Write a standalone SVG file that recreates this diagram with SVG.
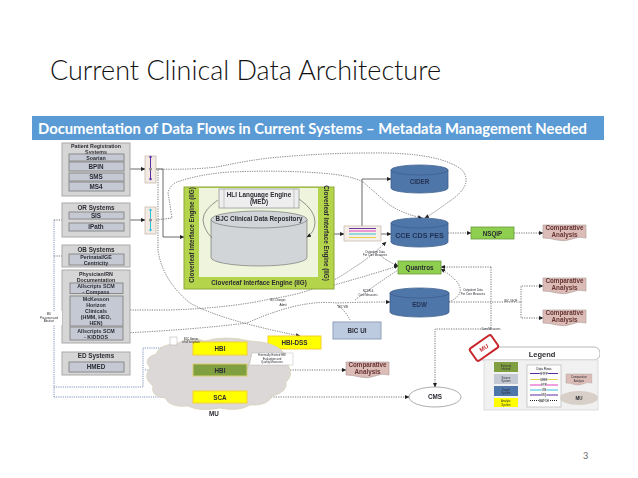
<svg xmlns="http://www.w3.org/2000/svg" width="638" height="478" viewBox="0 0 638 478">
<style>
text{font-family:"Liberation Sans",Arial,sans-serif;text-anchor:middle;font-weight:bold;fill:#2b2b33}
.t{font-family:Lato,"Liberation Sans",sans-serif;text-anchor:start}
.g{fill:#d6d6d6;stroke:#aaa;stroke-width:1}
.i{fill:#c5c9d3;stroke:#8a8a8a;stroke-width:1}
.s{font-size:6.300px}
.n{font-size:5.300px}
.xs{font-size:2.800px;font-weight:normal}
.cyl{fill:#4f76a8;stroke:#3d5f8e;stroke-width:.8}
.y{fill:#ffff00;stroke:#f2cf30;stroke-width:1}
.gr{fill:#8fcf4f;stroke:#6a9a3a;stroke-width:.8}
.d{fill:#dcbcb6;stroke:#a99;stroke-width:.6}
.c{fill:none;stroke:#666;stroke-width:.9;stroke-dasharray:1.200 1.200}
.l{fill:none;stroke:#444;stroke-width:.8}
.a{fill:none;stroke:#777;stroke-width:.8}
.b{fill:none;stroke:#6f86b5;stroke-width:.9;stroke-dasharray:1.200 1}
.r{font-size:3px;paint-order:stroke;stroke:#f1f1f1;stroke-width:1px;font-weight:normal}
.an{fill:#633}
</style>
<defs>
<marker id="a" markerWidth="5" markerHeight="5" refX="4" refY="2.500" orient="auto" markerUnits="userSpaceOnUse"><path d="M0 .5L4.500 2.500L0 4.500z" fill="#222"/></marker>
<path id="doc" d="M0 0H43V13Q36 11 29 14T14 15T0 13z"/>
<filter id="soft" x="0" y="0" width="1" height="1" filterUnits="objectBoundingBox"><feGaussianBlur stdDeviation=".35"/></filter>
</defs>
<rect width="638" height="478" fill="#fff"/>
<text class="t" x="50" y="80" font-size="26.500" textLength="391" lengthAdjust="spacingAndGlyphs" style="font-weight:300;fill:#111">Current Clinical Data Architecture</text>
<rect x="32" y="116" width="572" height="24" fill="#5b9bd5"/>
<text class="t" x="38" y="133.500" font-size="14.700" textLength="549" lengthAdjust="spacingAndGlyphs" style="fill:#fff;font-weight:bold">Documentation of Data Flows in Current Systems – Metadata Management Needed</text>
<text class="t" x="583" y="459" font-size="9" style="font-weight:normal;fill:#666">3</text>

<g filter="url(#soft)">
<g id="connectors">
<path class="l" d="M130 169H145" marker-end="url(#a)"/><path class="l" d="M130 220H145" marker-end="url(#a)"/>
<path class="l" d="M156 169H163V237H184" marker-end="url(#a)"/>
<path class="l" d="M334 234H344" marker-end="url(#a)"/><path class="l" d="M381 234H391" marker-end="url(#a)"/>
<path class="l" d="M362 226V179H391" marker-end="url(#a)"/>
<path class="c" d="M156 169Q190 170 217 167Q250 160 270 158Q320 153 370 153Q440 152 462 170Q475 185 447 203Q435 212 425 218" marker-end="url(#a)"/>
<path class="c" d="M156 220L172 218Q170 205 168 193Q170 185 177 182Q200 174 230 172Q280 170 320 173Q350 175 363 182Q378 195 387 203Q400 213 422 218" marker-end="url(#a)"/>
<path class="c" d="M158 170V250Q162 280 190 303Q220 320 300 336" marker-end="url(#a)"/>
<path class="c" d="M123 310H170Q230 308 270 299Q320 292 350 270Q370 258 386 242" marker-end="url(#a)"/>
<path class="c" d="M334 285Q370 275 398 266" marker-end="url(#a)"/>
<path class="c" d="M380 255Q385 260 398 266" marker-end="url(#a)"/>
<path class="c" d="M123 333Q190 330 247 323Q265 315 275 312Q310 300 337 303Q365 302 390 302" marker-end="url(#a)"/>
<path class="c" d="M337 305Q345 310 350 320"/>
<path class="c" d="M355 300Q375 285 398 270"/>
<path class="c" d="M449 302H521"/>
<path class="c" d="M449 302Q475 290 441 269" marker-end="url(#a)"/>
<path class="c" d="M491 267H441" marker-end="url(#a)"/>
<path class="c" d="M521 302V286H543" marker-end="url(#a)"/>
<path class="c" d="M521 302V318H543" marker-end="url(#a)"/>
<path class="c" d="M448 233H471" marker-end="url(#a)"/><path class="c" d="M514 233H543" marker-end="url(#a)"/>
<path class="c" d="M491 267V329H435V387" marker-end="url(#a)"/>
<path class="c" d="M247 370H346" marker-end="url(#a)"/>
<path class="c" d="M247 397H409" marker-end="url(#a)"/>
<path class="c" d="M220 376V391"/>
<path class="b" d="M54 220V397"/>
<path class="c" d="M54 220H62M54 256H62"/>
<path class="b" d="M54 387H143V348H193" marker-end="url(#a)"/>
<path class="b" d="M54 397H193" marker-end="url(#a)"/>
<path class="b" d="M145 370H193" marker-end="url(#a)"/>
</g>

<g id="patient-registration"><rect class="g" x="62" y="143" width="68" height="53"/><text class="n" x="96" y="147.500">Patient Registration</text><text class="n" x="96" y="153.500">Systems</text>
<rect class="i" x="69" y="154" width="55" height="7"/><text class="n" x="96" y="160">Soarian</text>
<rect class="i" x="69" y="162" width="55" height="9"/><text class="s" x="96" y="168.500">BPIN</text>
<rect class="i" x="69" y="173" width="55" height="8"/><text class="s" x="96" y="179">SMS</text>
<rect class="i" x="69" y="182" width="55" height="9"/><text class="s" x="96" y="188.500">MS4</text></g>
<g id="or-systems"><rect class="g" x="62" y="203" width="68" height="34"/><text class="s" x="96" y="210">OR Systems</text>
<rect class="i" x="69" y="212" width="55" height="7"/><text class="s" x="96" y="217.500">SIS</text>
<rect class="i" x="69" y="223" width="55" height="8"/><text class="s" x="96" y="229">iPath</text></g>
<g id="ob-systems"><rect class="g" x="62" y="245" width="68" height="22"/><text class="s" x="96" y="252">OB Systems</text>
<rect class="i" x="69" y="254" width="55" height="11"/><text class="n" x="96" y="258.800">Perinatal/GE</text><text class="n" x="96" y="264.800">Centricity</text></g>
<g id="physician"><rect class="g" x="62" y="270" width="68" height="73"/><text class="n" x="96" y="275.500">Physician/RN</text><text class="n" x="96" y="281.500">Documentation</text>
<rect class="i" x="70" y="283" width="53" height="10.500"/><text class="n" x="96" y="287.500">Allscripts SCM</text><text class="n" x="96" y="293.500">- Compass</text>
<rect class="i" x="70" y="296" width="53" height="30"/><text class="n" x="96" y="301">McKesson</text><text class="n" x="96" y="307">Horizon</text><text class="n" x="96" y="313">Clinicals</text><text class="n" x="96" y="319">(HMM, HEO,</text><text class="n" x="96" y="325">HEN)</text>
<rect class="i" x="70" y="327" width="53" height="13"/><text class="n" x="96" y="332.500">Allscripts SCM</text><text class="n" x="96" y="338.500">- KIDDOS</text></g>
<g id="ed-systems"><rect class="g" x="62" y="352" width="68" height="23"/><text class="s" x="96" y="357.500">ED Systems</text>
<rect class="i" x="69" y="362" width="55" height="10"/><text class="s" x="96" y="369">HMED</text></g>
<g id="mu-label"><rect x="40" y="311" width="22" height="14" fill="#fff"/><text class="xs" x="49" y="315">MU</text><text class="xs" x="49" y="318.500">Pre-processed</text><text class="xs" x="49" y="322">Abstract</text></g>

<g id="switch-1"><rect x="145" y="156" width="11" height="27" fill="#f3ebe3" stroke="#b9a99a" stroke-width=".6"/><path d="M150.500 157V180" stroke="#5a2aa0" stroke-width="1"/><circle cx="150.500" cy="157" r="1.200" fill="#5a2aa0"/><circle cx="150.500" cy="169" r="1.500" fill="#888"/><circle cx="150.500" cy="179" r="1.200" fill="#5a2aa0"/></g>
<g id="switch-2"><rect x="145" y="207" width="11" height="27" fill="#f3ebe3" stroke="#b9a99a" stroke-width=".6"/><path d="M150.500 209V231" stroke="#30c0d8" stroke-width="1"/><circle cx="150.500" cy="210" r="1.200" fill="#30c0d8"/><circle cx="150.500" cy="220" r="1.500" fill="#888"/><circle cx="150.500" cy="230" r="1.200" fill="#30c0d8"/></g>

<g id="cloverleaf"><rect x="184" y="187" width="150" height="102" fill="#b4d44c" stroke="#8ea838"/><rect x="199" y="188" width="119" height="89" fill="#eff5dc"/>
<text class="s" transform="translate(193.500,235) rotate(-90)">Cloverleaf Interface Engine (IIG)</text>
<text class="s" transform="translate(323.500,233) rotate(90)">Cloverleaf Interface Engine (IIG)</text>
<text class="s" x="259" y="285">Cloverleaf Interface Engine (IIG)</text></g>
<g id="hli"><rect x="219" y="189" width="80" height="19" fill="#eee" stroke="#aaa"/><path d="M224 189V208M294 189V208" stroke="#aaa" stroke-width=".6"/><text class="s" x="259" y="197">HLI Language Engine</text><text class="s" x="259" y="204">(MED)</text></g>
<g id="repository"><path d="M211 219.500V257.500A48 8.500 0 0 0 307 257.500V219.500z" fill="#d2d5d8" stroke="#666" stroke-width=".6"/><ellipse cx="259" cy="219.500" rx="48" ry="8.500" fill="#d2d5d8" stroke="#666" stroke-width=".6"/><text class="s" x="259" y="220.500">BJC Clinical Data Repository</text></g>
<g id="hli-links"><path class="a" d="M218 200Q203 210 203 220Q204 230 212 238"/><path class="a" d="M299 199Q315 210 315 222Q315 232 307 237" marker-end="url(#a)"/></g>

<g id="switch-3"><rect x="344" y="226" width="37" height="15" fill="#f5efe8" stroke="#b9a99a" stroke-width=".6"/><path d="M349 228.500H376" stroke="#7030a0"/><path d="M349 231H376" stroke="#e040c0"/><path d="M349 234H376" stroke="#30c0d8"/><path d="M349 237.500H376" stroke="#e8d050"/></g>
<g id="cider"><path class="cyl" d="M391 170V188A28.500 5 0 0 0 448 188V170z"/><ellipse class="cyl" cx="419.500" cy="170" rx="28.500" ry="5"/><text class="s" x="419.500" y="183.500" style="fill:#223355">CIDER</text></g>
<g id="cce"><path class="cyl" d="M391 223V242A28.500 5 0 0 0 448 242V223z"/><ellipse class="cyl" cx="419.500" cy="223" rx="28.500" ry="5"/><text x="419.500" y="237.500" font-size="7.200" style="fill:#223355">CCE CDS PES</text></g>
<g id="edw"><path class="cyl" d="M390 293V312A29.500 5 0 0 0 449 312V293z"/><ellipse class="cyl" cx="419.500" cy="293" rx="29.500" ry="5"/><text class="s" x="419.500" y="307" style="fill:#223355">EDW</text></g>
<g id="nsqip"><rect class="gr" x="471" y="227" width="43" height="12"/><text class="s" x="492.500" y="235.500">NSQIP</text></g>
<g id="quantros"><rect class="gr" x="398" y="261" width="43" height="13"/><text class="s" x="419.500" y="269.500">Quantros</text></g>
<g id="comparative-1"><use href="#doc" class="d" x="543" y="225"/><text class="s an" x="564.500" y="230">Comparative</text><text class="s an" x="564.500" y="237">Analysis</text></g>
<g id="comparative-2"><use href="#doc" class="d" x="543" y="278"/><text class="s an" x="564.500" y="283">Comparative</text><text class="s an" x="564.500" y="290">Analysis</text></g>
<g id="comparative-3"><use href="#doc" class="d" x="543" y="310"/><text class="s an" x="564.500" y="315">Comparative</text><text class="s an" x="564.500" y="322">Analysis</text></g>
<g id="comparative-4"><use href="#doc" class="d" x="346" y="362"/><text class="s an" x="367.500" y="367">Comparative</text><text class="s an" x="367.500" y="374">Analysis</text></g>
<g id="bic-ui"><rect x="333" y="322" width="48" height="17" fill="#bccbe0" stroke="#8fa0b8"/><text class="s" x="357" y="332.500">BIC UI</text></g>
<g id="hbi-dss"><rect class="y" x="268" y="336" width="53" height="13"/><text class="s" x="294.500" y="344.500">HBI-DSS</text></g>
<g id="cloud"><path d="M176 344Q190 336 205 341Q225 335 250 341Q275 342 283 352Q294 356 288 365Q294 375 286 382Q288 392 272 396Q268 406 250 405Q238 412 220 408Q200 412 188 406Q170 408 165 398Q150 396 153 386Q142 378 150 368Q142 358 156 354Q160 344 176 344z" fill="#dcd8d8" stroke="#d8d2b8" stroke-width=".8"/></g>
<g id="hbi"><rect class="y" x="193" y="342" width="54" height="13"/><text class="s" x="220" y="350.500">HBI</text></g>
<g id="hbi-green"><rect x="193" y="364" width="54" height="12" fill="#7f9f3f" stroke="#d8d070"/><text class="s" x="220" y="372.500">HBI</text></g>
<g id="sca"><rect class="y" x="193" y="391" width="54" height="12"/><text class="s" x="220" y="399.500">SCA</text></g>
<text class="s" x="214" y="416">MU</text>
<g id="note-1"><rect x="170" y="337" width="7" height="8" fill="#fff" stroke="#aaa" stroke-width=".5"/><text class="xs" x="191" y="340">BJC Server</text><text class="xs" x="191" y="343">of all hospitals</text></g>
<g id="note-2"><path d="M252 353H293V365H250M252 353L247 370" fill="#fff" stroke="#aaa" stroke-width=".4"/><text class="xs" x="272" y="356">Externally Hosted HBI</text><text class="xs" x="272" y="359.500">Evaluation and</text><text class="xs" x="272" y="363">Quality Measures</text></g>
<g id="cms"><ellipse cx="435" cy="397" rx="26" ry="10" fill="#fff" stroke="#777" stroke-width=".6"/><text class="s" x="435" y="399">CMS</text></g>

<g id="conn-labels"><text class="xs" x="375" y="253">Outpatient Data</text><text class="xs" x="375" y="256">For Core Measures</text><text class="xs" x="368" y="292">NCDR &amp;</text><text class="xs" x="368" y="296">Core Measures</text><text class="xs" x="343" y="308">BIC VIB</text><text class="xs" x="278" y="301">BIc Charges</text><text class="xs" x="283" y="306">Admit</text><text class="xs" x="473" y="291">Outpatient Data</text><text class="xs" x="473" y="294.500">For Core Measures</text><text class="xs" x="511" y="302">BIC / BOP</text><text class="xs" x="491" y="330">Core Measures</text></g>

<g id="legend"><rect x="477" y="347" width="123" height="13" rx="6" fill="#fff" stroke="#999" stroke-width=".7"/><text x="542" y="357" font-size="7.500">Legend</text><rect x="484" y="360" width="114" height="50" fill="#f1f1f1" stroke="#ddd"/>
<rect x="494" y="362" width="24" height="10" fill="#7f9f3f"/><text class="xs" x="506" y="366.500">External</text><text class="xs" x="506" y="370">Hosted</text>
<rect x="494" y="374" width="24" height="10" fill="#c5c9d3"/><text class="xs" x="506" y="378.500">Source</text><text class="xs" x="506" y="382">System</text>
<rect x="494" y="386" width="24" height="10" fill="#4f76a8"/><text class="xs" x="506" y="390.500">Target</text><text class="xs" x="506" y="394">System</text>
<rect x="494" y="398" width="24" height="9" fill="#ffff00"/><text class="xs" x="506" y="402">Analytic</text><text class="xs" x="506" y="405.500">System</text>
<rect x="527" y="365" width="34" height="42" fill="#fff" stroke="#aaa" stroke-width=".6"/><text class="r" x="544" y="370">Data Flows</text>
<path d="M530 373.500H558" stroke="#5a2aa0"/><path d="M530 379.500H558" stroke="#e8d050"/><path d="M530 385H558" stroke="#e040c0"/><path d="M530 390H558" stroke="#30c0d8"/><path d="M530 395H558" stroke="#5a2aa0"/><path d="M530 400.500H558" stroke="#222" stroke-dasharray="1 1"/>
<text class="r" x="544" y="374.500">HTTP</text><text class="r" x="544" y="380.500">MHR</text><text class="r" x="544" y="386">FTP</text><text class="r" x="544" y="391">OB</text><text class="r" x="544" y="396">MQ</text><text class="r" x="544" y="401.500">BATCH</text>
<use href="#doc" class="d" transform="translate(566 374) scale(.6 .7)"/><text class="xs" x="579" y="378">Comparative</text><text class="xs" x="579" y="381.500">Analysis</text>
<ellipse cx="579" cy="398" rx="19" ry="7" fill="#d8d0c8"/><text x="579" y="400" font-size="4.500">MU</text></g>
<g id="mu-stamp"><rect x="-13" y="-7.500" width="26" height="15" rx="2" transform="translate(484 348) rotate(-35)" fill="#fff" stroke="#c8282c" stroke-width="2"/><text x="0" y="2" font-size="6" transform="translate(484 348) rotate(-35)" style="fill:#c8282c">MU</text></g>
</g>
</svg>
